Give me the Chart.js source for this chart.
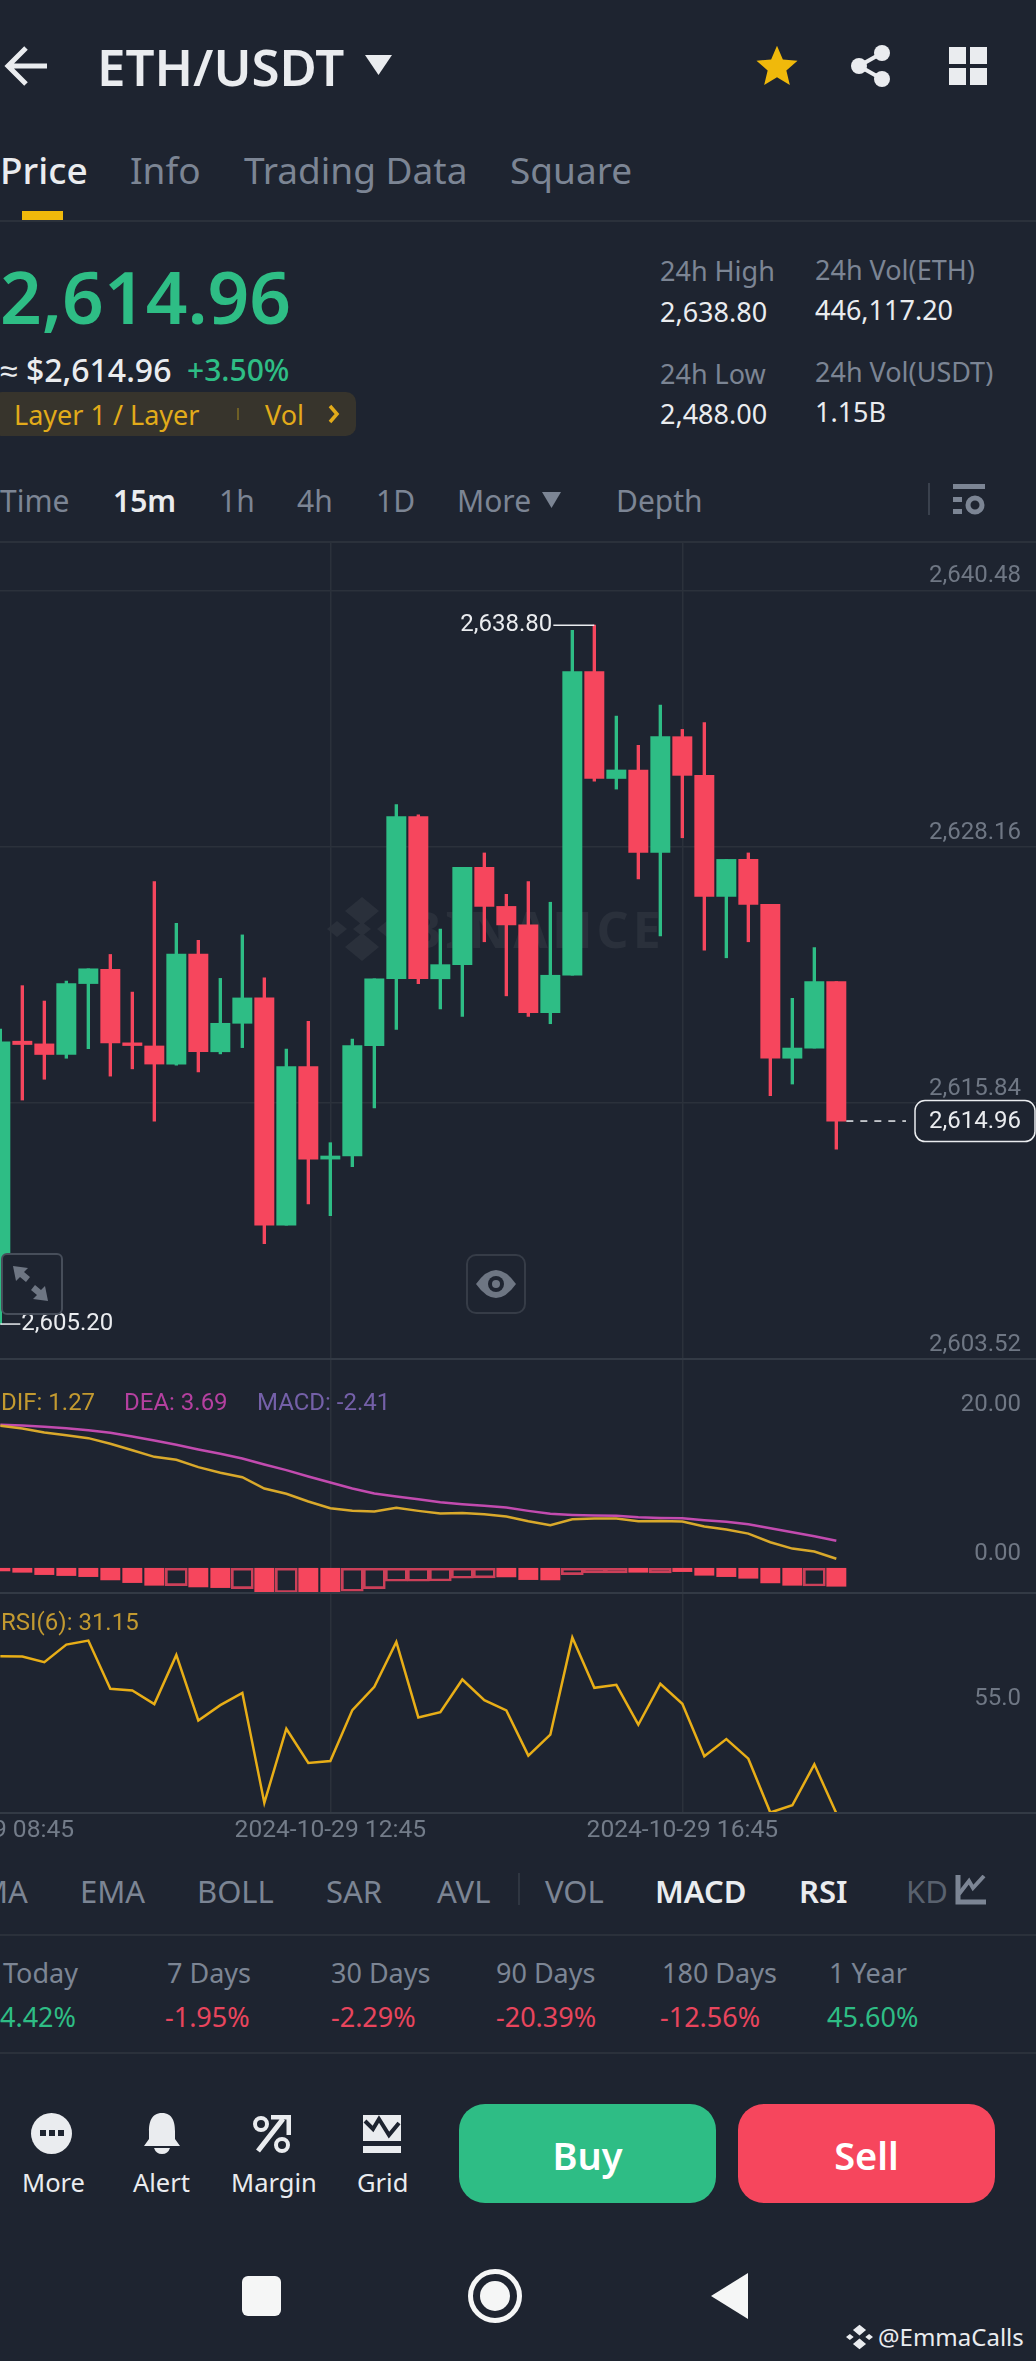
<!DOCTYPE html>
<html>
<head>
<meta charset="utf-8">
<title>ETH/USDT</title>
<script src="https://cdn.jsdelivr.net/npm/chart.js@4/dist/chart.umd.js"></script>
<style>
html, body { margin: 0; padding: 0; background: #1E2430; overflow: hidden; }
#page { position: relative; width: 1036px; height: 2361px; overflow: hidden; background: #1E2430; font-family: "Noto Sans", sans-serif; color: #7C8594; }
#chart { position: absolute; left: -176px; top: 542px; z-index: 2; }
.t { position: absolute; transform: translateY(-50%); white-space: nowrap; line-height: 1; z-index: 3; }
.line { position: absolute; left: 0; width: 1036px; height: 2px; background: #2B313B; }
svg, .box { position: absolute; z-index: 3; }
.g { color: #2EBD85; } .r { color: #E8455D; } .w { color: #EAECEF; }
.tab { font-size: 37px; } .st { font-size: 27px; } .per { font-size: 30px; } .ind { font-size: 31px; } .day { font-size: 27px; } .nav { font-size: 25.5px; color: #EAECEF; }
.leg { font-family: Roboto, sans-serif; font-size: 24px; }
.wm { position: absolute; left: 408px; top: 929px; transform: translateY(-50%); font: 700 50px "Noto Sans", sans-serif; color: #2A303B; letter-spacing: 4px; z-index: 1; }
</style>
</head>
<body>
<div id="page">
  <!-- header -->
  <svg style="left:4px;top:44px" width="46" height="44" viewBox="0 0 46 44"><path d="M22 4 L4 22 L22 40 M5 22 H43" fill="none" stroke="#EAECEF" stroke-width="5"/></svg>
  <div class="t w" style="left:97px;top:66px;font-size:51px;font-weight:600">ETH/USDT</div>
  <svg style="left:365px;top:55px" width="27" height="20"><path d="M0 0 H27 L13.5 20 Z" fill="#EAECEF"/></svg>
  <svg style="left:755px;top:44px" width="44" height="44" viewBox="0 0 24 24"><path d="M12 1 L15.2 8.4 L23.2 9.1 L17.1 14.4 L19 22.3 L12 18.1 L5 22.3 L6.9 14.4 L.8 9.1 L8.8 8.4 Z" fill="#F0B90B"/></svg>
  <svg style="left:850px;top:44px" width="42" height="44" viewBox="0 0 42 44"><circle cx="9" cy="22" r="8" fill="#EAECEF"/><circle cx="32" cy="9" r="8" fill="#EAECEF"/><circle cx="32" cy="35" r="8" fill="#EAECEF"/><path d="M9 22 L32 9 M9 22 L32 35" stroke="#EAECEF" stroke-width="4"/></svg>
  <svg style="left:949px;top:47px" width="38" height="38"><rect width="17" height="17" fill="#EAECEF"/><rect x="21" width="17" height="17" fill="#EAECEF"/><rect y="21" width="17" height="17" fill="#EAECEF"/><rect x="21" y="21" width="17" height="17" fill="#EAECEF"/></svg>

  <div class="t tab w" style="left:0;top:169px;font-weight:500">Price</div>
  <div class="t tab" style="left:130px;top:169px">Info</div>
  <div class="t tab" style="left:244px;top:169px">Trading Data</div>
  <div class="t tab" style="left:510px;top:169px">Square</div>
  <div class="box" style="left:22px;top:211px;width:41px;height:9px;background:#F0B90B"></div>
  <div class="line" style="top:220px"></div>

  <!-- price block -->
  <div class="t g" style="left:0;top:295px;font-size:73px;font-weight:600">2,614.96</div>
  <div class="t w" style="left:0;top:370px;font-size:32px;font-weight:500">≈ $2,614.96</div>
  <div class="t g" style="left:187px;top:370px;font-size:30px;font-weight:500">+3.50%</div>
  <div class="box" style="left:-8px;top:392px;width:364px;height:44px;border-radius:10px;background:#37342C"></div>
  <div class="t" style="left:14px;top:414px;font-size:27px;color:#E2AB1A">Layer 1 / Layer</div>
  <div class="box" style="left:237px;top:408px;width:2px;height:12px;background:#6E5F25"></div>
  <div class="t" style="left:265px;top:414px;font-size:27px;color:#E2AB1A">Vol</div>
  <svg style="left:328px;top:404px" width="12" height="20"><path d="M2 2 L9 10 L2 18" fill="none" stroke="#E2AB1A" stroke-width="3.5"/></svg>

  <div class="t st" style="left:660px;top:270px">24h High</div>
  <div class="t st w" style="left:660px;top:311px">2,638.80</div>
  <div class="t st" style="left:815px;top:269px">24h Vol(ETH)</div>
  <div class="t st w" style="left:815px;top:309px">446,117.20</div>
  <div class="t st" style="left:660px;top:373px">24h Low</div>
  <div class="t st w" style="left:660px;top:413px">2,488.00</div>
  <div class="t st" style="left:815px;top:371px">24h Vol(USDT)</div>
  <div class="t st w" style="left:815px;top:411px">1.15B</div>

  <!-- period row -->
  <div class="t per" style="left:0;top:501px">Time</div>
  <div class="t per w" style="left:113px;top:501px;font-weight:600">15m</div>
  <div class="t per" style="left:219px;top:501px">1h</div>
  <div class="t per" style="left:297px;top:501px">4h</div>
  <div class="t per" style="left:376px;top:501px">1D</div>
  <div class="t per" style="left:457px;top:501px">More</div>
  <svg style="left:542px;top:492px" width="19" height="16"><path d="M0 0 H19 L9.5 16 Z" fill="#7C8594"/></svg>
  <div class="t per" style="left:616px;top:501px">Depth</div>
  <div class="box" style="left:928px;top:483px;width:2px;height:32px;background:#3A414D"></div>
  <svg style="left:953px;top:484px" width="32" height="32"><rect width="32" height="5" fill="#7C8594"/><rect y="13" width="9" height="5" fill="#7C8594"/><rect y="25" width="9" height="5" fill="#7C8594"/><circle cx="22" cy="21" r="7" fill="none" stroke="#7C8594" stroke-width="5"/></svg>
  <div class="line" style="top:541px"></div>

  <!-- chart -->
  <div class="wm">BINANCE</div>
  <svg style="left:327px;top:897px;z-index:1" width="70" height="64" viewBox="0 0 70 64"><path d="M35 0 L52 14 L35 28 L18 14 Z M35 36 L52 50 L35 64 L18 50 Z M10 24 L20 32 L10 40 L0 32 Z M60 24 L70 32 L60 40 L50 32 Z M35 25 L44 32 L35 39 L26 32 Z" fill="#2A303B"/></svg>
  <canvas id="chart" width="1212" height="1308"></canvas>
  <div class="t leg" style="left:1px;top:1402px;color:#C39A30">DIF: 1.27</div>
  <div class="t leg" style="left:124px;top:1402px;color:#B4409F">DEA: 3.69</div>
  <div class="t leg" style="left:257px;top:1402px;color:#7460A8">MACD: -2.41</div>
  <div class="t leg" style="left:1px;top:1622px;color:#C39A30">RSI(6): 31.15</div>

  <div class="box" style="left:1px;top:1253px;width:58px;height:58px;border:2px solid #474E5A;border-radius:6px;background:#1E2430"></div>
  <svg style="left:13px;top:1266px" width="35" height="35" viewBox="0 0 35 35"><path d="M0 0 L15 2 L11 6 L17 11 L13 16 L7 11 L3 15 Z M35 35 L20 33 L24 29 L18 24 L22 19 L28 24 L32 20 Z" fill="#6E7683"/></svg>
  <div class="box" style="left:466px;top:1254px;width:56px;height:56px;border:2px solid #363C47;border-radius:10px"></div>
  <svg style="left:476px;top:1270px" width="40" height="28" viewBox="0 0 40 28"><path d="M0 14 Q20 -14 40 14 Q20 42 0 14 Z" fill="#6E7683"/><circle cx="20" cy="14" r="8" fill="#1E2430"/><circle cx="20" cy="14" r="4" fill="#6E7683"/></svg>

  <!-- indicators -->
  <div class="t ind" style="left:-20px;top:1891px">MA</div>
  <div class="t ind" style="left:80px;top:1891px">EMA</div>
  <div class="t ind" style="left:197px;top:1891px">BOLL</div>
  <div class="t ind" style="left:326px;top:1891px">SAR</div>
  <div class="t ind" style="left:437px;top:1891px">AVL</div>
  <div class="box" style="left:518px;top:1873px;width:2px;height:32px;background:#2F3641"></div>
  <div class="t ind" style="left:545px;top:1891px">VOL</div>
  <div class="t ind w" style="left:655px;top:1891px;font-weight:600">MACD</div>
  <div class="t ind w" style="left:799px;top:1891px;font-weight:600">RSI</div>
  <div class="t ind" style="left:906px;top:1891px;color:#59616E">KD</div>
  <svg style="left:955px;top:1875px" width="31" height="30"><path d="M3 0 V27 H31" fill="none" stroke="#7C8594" stroke-width="5"/><path d="M4 19 L14 6 L18 13 L29 1" fill="none" stroke="#7C8594" stroke-width="4"/></svg>
  <div class="line" style="top:1934px"></div>

  <div class="t day" style="left:3px;top:1972px">Today</div>
  <div class="t day" style="left:167px;top:1972px">7 Days</div>
  <div class="t day" style="left:331px;top:1972px">30 Days</div>
  <div class="t day" style="left:496px;top:1972px">90 Days</div>
  <div class="t day" style="left:662px;top:1972px">180 Days</div>
  <div class="t day" style="left:829px;top:1972px">1 Year</div>
  <div class="t day g" style="left:0;top:2016px">4.42%</div>
  <div class="t day r" style="left:165px;top:2016px">-1.95%</div>
  <div class="t day r" style="left:331px;top:2016px">-2.29%</div>
  <div class="t day r" style="left:496px;top:2016px">-20.39%</div>
  <div class="t day r" style="left:660px;top:2016px">-12.56%</div>
  <div class="t day g" style="left:827px;top:2016px">45.60%</div>
  <div class="line" style="top:2052px"></div>

  <!-- bottom bar -->
  <svg style="left:31px;top:2113px" width="41" height="41"><circle cx="20.5" cy="20.5" r="20.5" fill="#EAECEF"/><rect x="9" y="17" width="6" height="6" fill="#1E2430"/><rect x="18" y="17" width="6" height="6" fill="#1E2430"/><rect x="27" y="17" width="6" height="6" fill="#1E2430"/></svg>
  <svg style="left:143px;top:2113px" width="38" height="41" viewBox="0 0 38 41"><path d="M19 0 C30 0 32 10 32 18 V26 L37 33 H1 L6 26 V18 C6 10 8 0 19 0 Z" fill="#EAECEF"/><path d="M11 35 H27 Q25 41 19 41 Q13 41 11 35 Z" fill="#EAECEF"/></svg>
  <svg style="left:253px;top:2115px" width="38" height="38" viewBox="0 0 38 38"><path d="M5 36 L30 4 M18 2 H36 V20" fill="none" stroke="#EAECEF" stroke-width="5"/><circle cx="8" cy="9" r="6" fill="none" stroke="#EAECEF" stroke-width="4"/><circle cx="29" cy="30" r="6" fill="none" stroke="#EAECEF" stroke-width="4"/></svg>
  <svg style="left:363px;top:2115px" width="38" height="38" viewBox="0 0 38 38"><rect width="38" height="26" fill="#EAECEF"/><rect y="31" width="38" height="7" fill="#EAECEF"/><path d="M2 6 L10 14 L16 4 L26 20 L36 8" fill="none" stroke="#1E2430" stroke-width="4"/></svg>
  <div class="t nav" style="left:22px;top:2183px">More</div>
  <div class="t nav" style="left:133px;top:2183px">Alert</div>
  <div class="t nav" style="left:231px;top:2183px">Margin</div>
  <div class="t nav" style="left:357px;top:2183px">Grid</div>
  <div class="box" style="left:459px;top:2104px;width:257px;height:99px;border-radius:26px;background:#2EBD85"></div>
  <div class="box" style="left:738px;top:2104px;width:257px;height:99px;border-radius:26px;background:#F6465D"></div>
  <div class="t" style="left:459px;width:257px;text-align:center;top:2155px;font-size:38px;font-weight:600;color:#fff">Buy</div>
  <div class="t" style="left:738px;width:257px;text-align:center;top:2155px;font-size:38px;font-weight:600;color:#fff">Sell</div>

  <!-- android nav -->
  <div class="box" style="left:242px;top:2276px;width:39px;height:40px;border-radius:6px;background:#F5F6F6"></div>
  <svg style="left:468px;top:2269px" width="54" height="54"><circle cx="27" cy="27" r="24.5" fill="none" stroke="#F5F6F6" stroke-width="5"/><circle cx="27" cy="27" r="15" fill="#F5F6F6"/></svg>
  <svg style="left:711px;top:2273px" width="37" height="46"><path d="M37 0 V46 L0 23 Z" fill="#F5F6F6"/></svg>
  <svg style="left:846px;top:2322px" width="27" height="30" viewBox="0 0 70 64"><path d="M35 0 L52 14 L35 28 L18 14 Z M35 36 L52 50 L35 64 L18 50 Z M10 24 L20 32 L10 40 L0 32 Z M60 24 L70 32 L60 40 L50 32 Z" fill="#EAECEF"/></svg>
  <div class="t w" style="left:878px;top:2337px;font-size:24px">@EmmaCalls</div>
</div>

<script>
// 15m velas, index 0 = 09:00
var opens = [2607.23, 2618.80, 2618.67, 2618.16, 2621.57, 2622.25, 2618.72, 2618.57, 2617.70, 2622.99, 2618.29, 2619.66, 2620.88, 2609.95, 2617.58, 2613.13, 2613.28, 2618.59, 2621.80, 2629.60, 2621.80, 2622.48, 2627.16, 2625.28, 2624.39, 2620.17, 2621.97, 2636.57, 2631.43, 2631.84, 2627.87, 2633.44, 2631.58, 2625.76, 2627.54, 2625.38, 2617.98, 2618.47, 2621.67];
var highs = [2619.38, 2621.47, 2620.73, 2621.69, 2622.28, 2622.97, 2621.16, 2626.47, 2624.47, 2623.65, 2621.82, 2623.91, 2621.85, 2618.42, 2619.76, 2613.92, 2618.90, 2621.80, 2630.18, 2629.68, 2624.19, 2627.16, 2627.85, 2625.86, 2626.47, 2625.48, 2638.55, 2638.80, 2634.43, 2633.03, 2634.96, 2633.79, 2634.12, 2627.54, 2627.85, 2625.38, 2620.86, 2623.30, 2621.67];
var lows = [2605.20, 2615.97, 2616.97, 2617.98, 2618.44, 2617.12, 2617.47, 2614.96, 2617.65, 2617.32, 2618.19, 2618.49, 2609.06, 2609.95, 2610.97, 2610.41, 2612.77, 2615.59, 2619.36, 2621.57, 2620.35, 2619.99, 2623.58, 2620.98, 2619.99, 2619.64, 2621.97, 2631.30, 2630.92, 2626.60, 2623.86, 2628.58, 2623.17, 2622.81, 2623.58, 2616.18, 2616.74, 2618.47, 2613.61];
var closes = [2618.77, 2618.64, 2618.16, 2621.57, 2622.28, 2618.72, 2618.59, 2617.70, 2622.99, 2618.29, 2619.66, 2620.88, 2609.95, 2617.58, 2613.13, 2613.28, 2618.59, 2621.80, 2629.60, 2621.80, 2622.48, 2627.16, 2625.28, 2624.39, 2620.17, 2621.97, 2636.57, 2631.43, 2631.84, 2627.87, 2633.44, 2631.58, 2625.76, 2627.54, 2625.38, 2617.98, 2618.47, 2621.67, 2614.96];

var dif = [19.06, 18.71, 18.17, 17.81, 17.41, 16.65, 15.80, 14.91, 14.51, 13.53, 12.77, 12.19, 10.67, 9.96, 8.93, 8.04, 7.68, 7.59, 8.08, 7.68, 7.32, 7.41, 7.23, 6.92, 6.29, 5.76, 6.56, 6.65, 6.65, 6.29, 6.34, 6.25, 5.58, 5.18, 4.64, 3.48, 2.63, 2.23, 1.27];
var dea = [19.20, 19.11, 18.93, 18.75, 18.48, 18.13, 17.63, 17.10, 16.52, 15.89, 15.31, 14.69, 13.88, 13.13, 12.28, 11.47, 10.67, 10.00, 9.60, 9.24, 8.84, 8.57, 8.35, 8.13, 7.68, 7.28, 7.14, 7.05, 7.01, 6.83, 6.74, 6.70, 6.43, 6.21, 5.89, 5.36, 4.82, 4.29, 3.69];
var macd = [-0.36, -0.54, -0.85, -0.98, -1.12, -1.56, -1.92, -2.28, -2.32, -2.50, -2.59, -2.72, -3.21, -3.26, -3.35, -3.44, -3.08, -2.72, -1.74, -1.74, -1.70, -1.34, -1.29, -1.16, -1.52, -1.56, -0.85, -0.63, -0.63, -0.54, -0.63, -0.45, -0.94, -1.12, -1.34, -1.96, -2.28, -2.37, -2.41];
var macdHollow = [8, 11, 13, 16, 17, 18, 19, 20, 21, 22, 26, 27, 28, 30, 37];
var rsi = [65.16, 65.09, 63.86, 67.68, 68.54, 58.10, 57.74, 54.78, 65.45, 51.25, 54.57, 57.23, 33.39, 49.45, 42.03, 42.46, 53.49, 58.53, 68.26, 51.90, 53.05, 60.12, 55.65, 53.41, 43.62, 48.16, 69.19, 58.31, 58.96, 50.32, 59.18, 54.86, 43.47, 47.22, 42.97, 31.30, 32.88, 41.74, 31.15];

var priceTicks = [2640.48, 2628.16, 2615.84, 2603.52];
var macdTicks = [20, 0];
var rsiTicks = [55];
var timeTicks = [-1, 15, 31];
var timeLabels = ['2024-10-29 08:45', '2024-10-29 12:45', '2024-10-29 16:45'];

var VERDE = '#2EBD85', ROJO = '#F6465D', GRID = '#2B313B', GRIS = '#6F7784';
var fuente = { family: 'Roboto', size: 24 };

function puntos(arr) {
    return arr.map(function (y, x) { return { x: x, y: y }; });
}
function colorVela(ctx) {
    return closes[ctx.dataIndex] >= opens[ctx.dataIndex] ? VERDE : ROJO;
}
function fijarTicks(valores) {
    return function (scale) {
        scale.ticks = valores.map(function (v) { return { value: v }; });
    };
}
function ejeY(stackWeight, min, max, valores, decimales, offset, conGrid) {
    return {
        type: 'linear', position: 'right', stack: 'paneles', stackWeight: stackWeight,
        min: min, max: max,
        afterBuildTicks: fijarTicks(valores),
        afterFit: function (scale) { scale.width = 0; },
        border: { display: false },
        grid: { display: conGrid, color: GRID, lineWidth: 1.5, drawTicks: false },
        ticks: {
            // etiquetas dentro del grafico, a 15px del borde derecho
            mirror: true, padding: -15, labelOffset: offset, color: GRIS, font: fuente,
            callback: function (v) {
                return v.toLocaleString('en-US', { minimumFractionDigits: decimales, maximumFractionDigits: decimales });
            }
        }
    };
}

// linea divisoria, maximo, minimo y precio actual
var extras = {
    id: 'extras',
    afterDraw: function (chart) {
        var c = chart.ctx, x = chart.scales.x, y = chart.scales.yPrecio, W = chart.width;
        c.save();
        c.strokeStyle = '#333A45';
        c.lineWidth = 2;
        [chart.scales.yPrecio.bottom, chart.scales.yMacd.bottom, chart.scales.yRsi.bottom].forEach(function (p) {
            c.beginPath(); c.moveTo(0, p); c.lineTo(W, p); c.stroke();
        });
        c.font = '24px Roboto';
        c.textBaseline = 'middle';
        c.fillStyle = '#EAECEF';
        c.strokeStyle = '#EAECEF';
        c.lineWidth = 1.5;

        var iMax = highs.indexOf(Math.max.apply(null, highs));
        var yMax = y.getPixelForValue(highs[iMax]), xMax = x.getPixelForValue(iMax);
        c.beginPath(); c.moveTo(xMax - 41, yMax); c.lineTo(xMax, yMax); c.stroke();
        c.textAlign = 'right';
        c.fillText(highs[iMax].toLocaleString('en-US', { minimumFractionDigits: 2 }), xMax - 42, yMax);

        var iMin = lows.indexOf(Math.min.apply(null, lows));
        var yMin = y.getPixelForValue(lows[iMin]), xMin = x.getPixelForValue(iMin);
        c.beginPath(); c.moveTo(xMin, yMin); c.lineTo(xMin + 20, yMin); c.stroke();
        c.textAlign = 'left';
        c.fillText(lows[iMin].toLocaleString('en-US', { minimumFractionDigits: 2 }), xMin + 21, yMin);

        var ult = closes.length - 1, yUlt = y.getPixelForValue(closes[ult]), xUlt = x.getPixelForValue(ult);
        c.setLineDash([7, 7]);
        c.beginPath(); c.moveTo(xUlt + 10, yUlt); c.lineTo(x.right - 130, yUlt); c.stroke();
        c.setLineDash([]);
        c.fillStyle = '#1E2430';
        c.beginPath(); c.roundRect(x.right - 121, yUlt - 20.5, 120, 41, 10); c.fill(); c.stroke();
        c.fillStyle = '#EAECEF';
        c.textAlign = 'right';
        c.fillText(closes[ult].toLocaleString('en-US', { minimumFractionDigits: 2 }), x.right - 15, yUlt + 1);
        c.restore();
    }
};

new Chart(document.getElementById('chart').getContext('2d'), {
    data: {
        datasets: [
            { type: 'line', yAxisID: 'yRsi', data: puntos(rsi), borderColor: '#E8AE17', borderWidth: 2.5, pointRadius: 0, tension: 0 },
            { type: 'line', yAxisID: 'yMacd', data: puntos(dif), borderColor: '#D9A92B', borderWidth: 2.5, pointRadius: 0, tension: 0 },
            { type: 'line', yAxisID: 'yMacd', data: puntos(dea), borderColor: '#C24BAF', borderWidth: 2.5, pointRadius: 0, tension: 0 },
            {
                type: 'bar', yAxisID: 'yMacd', grouped: false, barThickness: 19.3, backgroundColor: ROJO,
                data: puntos(macd).filter(function (p) { return macdHollow.indexOf(p.x) < 0; })
            },
            {
                type: 'bar', yAxisID: 'yMacd', grouped: false, barThickness: 22, backgroundColor: 'rgba(0,0,0,0)',
                borderColor: '#CC4059', borderWidth: 2, borderSkipped: false,
                data: puntos(macd).filter(function (p) { return macdHollow.indexOf(p.x) >= 0; })
            },
            {
                type: 'bar', yAxisID: 'yPrecio', grouped: false, barThickness: 19.3, backgroundColor: colorVela,
                data: opens.map(function (o, i) { return { x: i, y: [o, closes[i]] }; })
            },
            {
                type: 'bar', yAxisID: 'yPrecio', grouped: false, barThickness: 2.7, backgroundColor: colorVela,
                data: lows.map(function (l, i) { return { x: i, y: [l, highs[i]] }; })
            }
        ]
    },
    options: {
        responsive: false,
        animation: false,
        events: [],
        layout: { padding: 0 },
        plugins: { legend: { display: false }, tooltip: { enabled: false } },
        scales: {
            x: {
                type: 'linear', min: -8.015, max: 47.076, offset: false,
                afterBuildTicks: fijarTicks(timeTicks),
                afterFit: function (scale) { scale.height = 37; },
                border: { display: false },
                grid: { offset: false, color: GRID, lineWidth: 1.5, drawTicks: false },
                ticks: {
                    autoSkip: false, maxRotation: 0, padding: 3, color: '#737C89', font: { family: 'Roboto', size: 24.6 },
                    callback: function (v) { return timeLabels[timeTicks.indexOf(v)]; }
                }
            },
            yPrecio: ejeY(817, 2603.52, 2642.8, priceTicks, 2, -14, true),
            yMacd: ejeY(234, -3.31, 28.0, macdTicks, 2, -14, false),
            yRsi: ejeY(220, 31.2, 78.85, rsiTicks, 1, -4, false)
        }
    },
    plugins: [extras]
});
</script>
</body>
</html>
